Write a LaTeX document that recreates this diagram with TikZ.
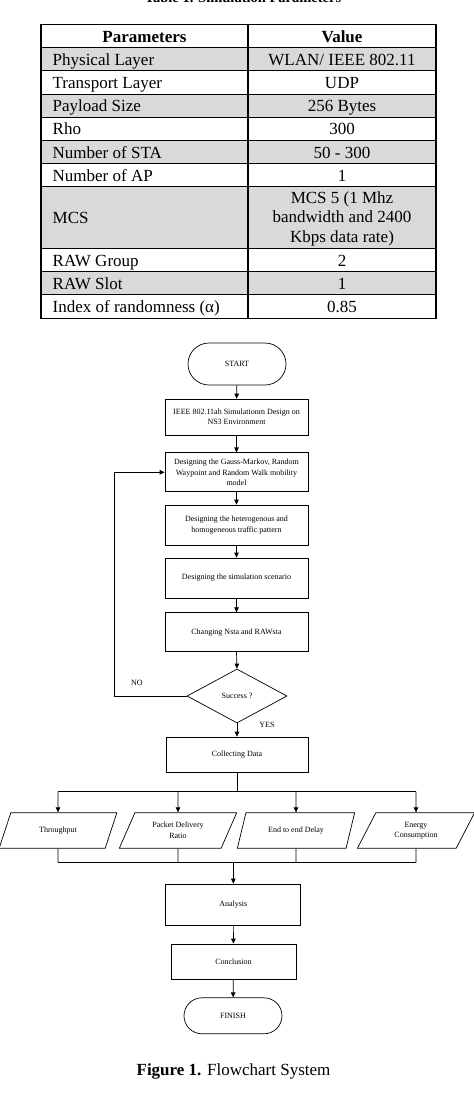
\documentclass[tikz,border=0pt]{standalone}
\usepackage{fontspec}
\setmainfont{Liberation Serif}
\usetikzlibrary{shapes.geometric,shapes.misc,arrows.meta}
\begin{document}
\begin{tikzpicture}[x=1pt,y=-1pt,
  tabtext/.style={font=\fontsize{17}{19.5}\selectfont, inner sep=0pt, text height=12pt, text depth=0pt},
  tabline/.style={line width=1.1pt},
  shade/.style={fill=black!15},
  fc/.style={draw, line width=0.7pt, font=\fontsize{8}{10.5}\selectfont, align=center, inner sep=1pt},
  fcbox/.style={fc, rectangle},
  term/.style={fc, rounded rectangle},
  io/.style={fc, trapezium, trapezium left angle=62, trapezium right angle=118, trapezium stretches=true, minimum width=118pt, minimum height=35.6pt},
  arr/.style={line width=0.7pt, -{Triangle[length=5pt,width=4.5pt]}},
  ln/.style={line width=0.7pt},
  lbl/.style={font=\fontsize{8}{10}\selectfont, inner sep=0pt}]
\useasboundingbox (0,0) rectangle (474,1098);
\fill[white] (0,0) rectangle (474,1098);

% ---------- table caption (cut off at top, as in the reference) ----------
\node[anchor=base, font=\bfseries\fontsize{14.5}{16}\selectfont, inner sep=0pt] (tcap) at (243,2.5) {Table 1. Simulation Parameters};

% ---------- table shading ----------
\fill[shade] (41,47.7) rectangle (436,70.9);
\fill[shade] (41,94.1) rectangle (436,117.3);
\fill[shade] (41,140.5) rectangle (436,163.7);
\fill[shade] (41,186.9) rectangle (436,248.5);
\fill[shade] (41,271.7) rectangle (436,294.9);

% ---------- table rules ----------
\draw[tabline] (41,24.5) rectangle (436,318.1);
\draw[tabline] (248,24.5) -- (248,318.1);
\foreach \yy in {47.7,70.9,94.1,117.3,140.5,163.7,186.9,248.5,271.7,294.9}
  \draw[tabline] (41,\yy) -- (436,\yy);

% ---------- table text ----------
\node[tabtext, font=\bfseries\fontsize{17}{19.5}\selectfont] (hp) at (144.5,36.1) {Parameters};
\node[tabtext, font=\bfseries\fontsize{17}{19.5}\selectfont] (hv) at (342,36.1) {Value};

\node[tabtext, anchor=west] (p1) at (52.5,59.3) {Physical Layer};
\node[tabtext] (v1) at (342,59.3) {WLAN/ IEEE 802.11};
\node[tabtext, anchor=west] (p2) at (52.5,82.5) {Transport Layer};
\node[tabtext] (v2) at (342,82.5) {UDP};
\node[tabtext, anchor=west] (p3) at (52.5,105.7) {Payload Size};
\node[tabtext] (v3) at (342,105.7) {256 Bytes};
\node[tabtext, anchor=west] (p4) at (52.5,128.9) {Rho};
\node[tabtext] (v4) at (342,128.9) {300};
\node[tabtext, anchor=west] (p5) at (52.5,152.1) {Number of STA};
\node[tabtext] (v5) at (342,152.1) {50 - 300};
\node[tabtext, anchor=west] (p6) at (52.5,175.3) {Number of AP};
\node[tabtext] (v6) at (342,175.3) {1};
\node[tabtext, anchor=west] (p7) at (52.5,217.7) {MCS};
\node[font=\fontsize{17}{19.5}\selectfont, inner sep=0pt, align=center] (v7) at (342,218.5) {MCS 5 (1 Mhz\\bandwidth and 2400\\Kbps data rate)};
\node[tabtext, anchor=west] (p8) at (52.5,260.1) {RAW Group};
\node[tabtext] (v8) at (342,260.1) {2};
\node[tabtext, anchor=west] (p9) at (52.5,283.3) {RAW Slot};
\node[tabtext] (v9) at (342,283.3) {1};
\node[tabtext, anchor=west] (p10) at (52.5,306.5) {Index of randomness (α)};
\node[tabtext] (v10) at (342,306.5) {0.85};

% ---------- flowchart ----------
\node[term, minimum width=100pt, minimum height=42pt] (start) at (237,364) {START};
\node[fcbox, minimum width=143pt, minimum height=36pt] (ieee) at (236.5,417) {IEEE 802.11ah Simulationm Design on\\NS3 Environment};
\node[fcbox, minimum width=143pt, minimum height=39pt] (mob) at (236.5,472.3) {Designing the Gauss-Markov, Random\\Waypoint and Random Walk mobility\\model};
\node[fcbox, minimum width=143pt, minimum height=40pt] (traf) at (236.5,525) {Designing the heterogenous and\\homogeneous traffic pattern};
\node[fcbox, minimum width=143pt, minimum height=40pt] (scen) at (236.5,578) {Designing the simulation scenario};
\node[fcbox, minimum width=143pt, minimum height=39pt] (chg) at (236.5,632.2) {Changing Nsta and RAWsta};
\node[fc, diamond, minimum width=100pt, minimum height=54pt, inner sep=0pt] (dec) at (237,696) {Success ?};
\node[fcbox, minimum width=142pt, minimum height=35pt] (coll) at (237,754.5) {Collecting Data};

\node[io] (o1) at (58,830.5) {Throughput};
\node[io] (o2) at (178,830.5) {Packet Delivery\\Ratio};
\node[io] (o3) at (296,830.5) {End to end Delay};
\node[io] (o4) at (416,830.5) {Energy\\Consumption};

\node[fcbox, minimum width=135pt, minimum height=41.7pt] (ana) at (233.3,904.8) {Analysis};
\node[fcbox, minimum width=125pt, minimum height=35pt] (conc) at (233.5,961.5) {Conclusion};
\node[term, minimum width=100pt, minimum height=36pt] (fin) at (233,1015.8) {FINISH};

\node[lbl] (no) at (137,683) {NO};
\node[lbl] (yes) at (267,725) {YES};

% connectors
\draw[arr] (start) -- (ieee);
\draw[arr] (ieee) -- (mob);
\draw[arr] (mob) -- (traf);
\draw[arr] (traf) -- (scen);
\draw[arr] (scen) -- (chg);
\draw[arr] (chg.south) -- (dec.north);
\draw[arr] (dec.south) -- (coll.north);
\draw[arr] (dec.west) -- ++(-72,0) |- (mob.west);

\coordinate (split) at (237,791.7);
\draw[ln] (coll.south) -- (split);
\draw[ln] (58,791.7) -- (416,791.7);
\draw[arr] (58,791.7) -- (o1.north);
\draw[arr] (178,791.7) -- (o2.north);
\draw[arr] (296,791.7) -- (o3.north);
\draw[arr] (416,791.7) -- (o4.north);

\coordinate (join) at (233.3,862.7);
\draw[ln] (o1.south) -- (58,862.7);
\draw[ln] (o2.south) -- (178,862.7);
\draw[ln] (o3.south) -- (296,862.7);
\draw[ln] (o4.south) -- (416,862.7);
\draw[ln] (58,862.7) -- (416,862.7);
\draw[arr] (join) -- (ana.north);
\draw[arr] (ana) -- (conc);
\draw[arr] (conc) -- (fin);

% ---------- figure caption ----------
\node[font=\fontsize{17}{19.5}\selectfont, inner sep=0pt, anchor=base] (fcap) at (233.5,1075) {\textbf{Figure 1.} Flowchart System};
\end{tikzpicture}
\end{document}
